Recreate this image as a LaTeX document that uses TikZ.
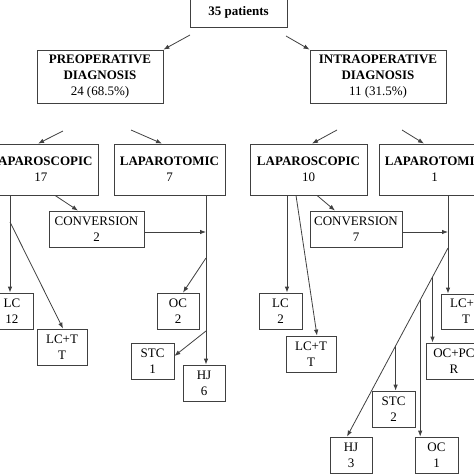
\documentclass[tikz,border=0pt]{standalone}
\usepackage{fontspec}
\setmainfont{Liberation Serif}
\usetikzlibrary{arrows.meta,calc}
\begin{document}
\begin{tikzpicture}[x=1pt,y=-1pt,
  box/.style={draw=black!75,line width=0.8pt,inner sep=0pt,align=center,
    font=\fontsize{13}{16}\selectfont,minimum height=36pt},
  big/.style={box,minimum height=51pt},
  arr/.style={draw=black!75,line width=0.8pt,-{Latex[length=6pt,width=4.5pt]}}]
\useasboundingbox (0,0) rectangle (474,474);
\clip (0,0) rectangle (474,474);
% nodes
\node[box,minimum width=97pt,minimum height=30pt] (top) at (238.5,12) {\textbf{35 patients}};
\node[box,minimum width=126pt,minimum height=53pt] (pre) at (100,76.5) {\textbf{PREOPERATIVE}\\\textbf{DIAGNOSIS}\\24 (68.5\%)};
\node[box,minimum width=136pt,minimum height=53pt] (intra) at (378,76.5) {\textbf{INTRAOPERATIVE}\\\textbf{DIAGNOSIS}\\11 (31.5\%)};
\node[big,minimum width=114pt] (lapL) at (41,169.5) {\textbf{LAPAROSCOPIC}\\17};
\node[big,minimum width=111pt] (lapoL) at (169.5,169.5) {\textbf{LAPAROTOMIC}\\7};
\node[box,minimum width=95pt] (convL) at (96.5,229) {CONVERSION\\2};
\node[box,minimum width=42pt] (lc12) at (12,311) {LC\\12};
\node[box,minimum width=50pt] (lctL) at (62,347) {LC+T\\T};
\node[box,minimum width=42pt] (oc2) at (178,311) {OC\\2};
\node[box,minimum width=43pt] (stc1) at (152.5,361) {STC\\1};
\node[box,minimum width=42pt] (hj6) at (204,383) {HJ\\6};
\node[big,minimum width=117pt] (lapR) at (308.5,169.5) {\textbf{LAPAROSCOPIC}\\10};
\node[big,minimum width=111pt] (lapoR) at (434.5,169.5) {\textbf{LAPAROTOMIC}\\1};
\node[box,minimum width=92pt] (convR) at (356,229) {CONVERSION\\7};
\node[box,minimum width=43pt] (lc2) at (280.5,311) {LC\\2};
\node[box,minimum width=50pt] (lctR) at (311,354) {LC+T\\T};
\node[box,minimum width=50pt,minimum height=35pt] (lctR2) at (466,311.5) {LC+T\\T};
\node[box,minimum width=56pt] (ocpcr) at (454,361) {OC+PC\\R};
\node[box,minimum width=43pt] (stc2) at (393.5,409) {STC\\2};
\node[box,minimum width=43pt] (oc1) at (436.5,455) {OC\\1};
\node[box,minimum width=42pt] (hj3) at (351,455) {HJ\\3};
% top level
\coordinate (t1) at (190,35);
\coordinate (t2) at (286,36);
\draw[arr] (t1) -- (pre.north east);
\draw[arr] (t2) -- (intra.north west);
\coordinate (p1) at (63,131);
\coordinate (p2) at (131,130);
\coordinate (i1) at (337,130);
\coordinate (i2) at (402,130);
\draw[arr] (p1) -- ([xshift=-3pt]lapL.north);
\draw[arr] (p2) -- ([xshift=-7.5pt]lapoL.north);
\draw[arr] (i1) -- ([xshift=3.5pt]lapR.north);
\draw[arr] (i2) -- ([xshift=-10.5pt]lapoR.north);
% left branch
\draw[arr] ([xshift=14pt]lapL.south) -- ([xshift=-18.5pt]convL.north);
\draw[arr] ([xshift=-31pt]lapL.south) -- ([xshift=-2pt]lc12.north);
\coordinate (bL) at (10,222);
\draw[arr] (bL) -- ([xshift=1pt]lctL.north);
\draw[arr] ([xshift=36.5pt]lapoL.south) -- ([xshift=2pt]hj6.north);
\coordinate (jL) at (206,232);
\draw[arr] (convL.east |- jL) -- (jL);
\coordinate (bO) at (206,258);
\draw[arr] (bO) -- ([xshift=5pt]oc2.north);
\coordinate (bS) at (206,331);
\draw[arr] (bS) -- ([yshift=5pt]stc1.east);
% right branch
\draw[arr] ([xshift=-21.5pt]lapR.south) -- ([xshift=6.5pt]lc2.north);
\draw[arr] ([xshift=-12.5pt]lapR.south) -- ([xshift=6pt]lctR.north);
\draw[arr] ([xshift=8.5pt]lapR.south) -- ([xshift=-21pt]convR.north);
\draw[arr] ([xshift=13.5pt]lapoR.south) -- ([xshift=-18pt]lctR2.north);
\coordinate (jR) at (448,232);
\draw[arr] (convR.east |- jR) -- (jR);
\coordinate (d0) at (448,248);
\draw[arr] (d0) -- ([xshift=-4pt]hj3.north);
\coordinate (d1) at (432.5,277);
\coordinate (d2) at (420.2,300);
\coordinate (d3) at (395.6,346);
\draw[arr] (d1) -- (d1 |- ocpcr.north);
\draw[arr] (d2) -- (d2 |- oc1.north);
\draw[arr] (d3) -- (d3 |- stc2.north);
\end{tikzpicture}
\end{document}
